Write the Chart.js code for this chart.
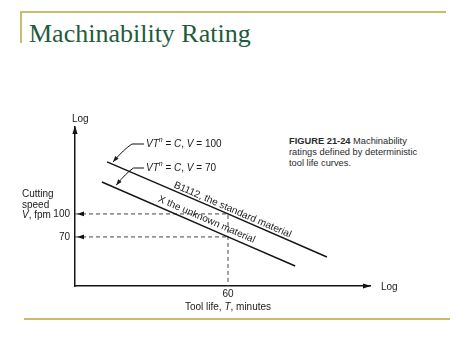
<!DOCTYPE html>
<html><head><meta charset="utf-8">
<script src="https://cdn.jsdelivr.net/npm/chart.js@4.4.1/dist/chart.umd.min.js"></script>
<style>
html,body{margin:0;padding:0;background:#fff;}
#wrap{position:relative;width:474px;height:355px;overflow:hidden;background:#fff;}
#c{position:absolute;left:0;top:0;}
.gold{position:absolute;background:#cdbb6c;}
#title{position:absolute;left:29px;top:21px;font-family:"Liberation Serif","DejaVu Serif",serif;font-size:26px;line-height:26px;color:#1f5b3c;white-space:nowrap;}
#caption{position:absolute;left:289px;top:136px;font-family:"Liberation Sans",Arial,sans-serif;font-size:9.3px;line-height:11px;color:#2a2a2a;white-space:nowrap;}
</style></head>
<body><div id="wrap">
<div class="gold" style="left:20px;top:11px;width:426px;height:2px"></div>
<div class="gold" style="left:20px;top:11px;width:1.5px;height:32px"></div>
<div class="gold" style="left:24px;top:318px;width:426px;height:2px"></div>
<div id="title">Machinability Rating</div>
<div id="caption"><b>FIGURE 21-24</b> Machinability<br>ratings defined by deterministic<br>tool life curves.</div>
<canvas id="c" width="474" height="355"></canvas>
</div>
<script>
// ---- data (log-log axes: tool life T in minutes, cutting speed V in fpm) ----
const xTicks = [60];
const yTicks = [70, 100];
const xRange = [5.6, 542];
const yRange = [32.7, 385];
const standardT = [9.2, 60, 278];
const standardV = [224, 100, 51.3];
const unknownT = [8.5, 60, 170];
const unknownV = [164, 70, 44.6];
const ref100T = [5.6, 60, 60];
const ref100V = [100, 100, 32.7];
const ref70T = [5.6, 60];
const ref70V = [70, 70];

const FONT = '"Liberation Sans", Arial, sans-serif';
const pts = (T, V) => T.map((t, i) => ({x: t, y: V[i]}));

function tri(ctx, tx, ty, dx, dy, len, half) {
  const bx = tx - dx * len, by = ty - dy * len;
  ctx.beginPath();
  ctx.moveTo(tx, ty);
  ctx.lineTo(bx - dy * half, by + dx * half);
  ctx.lineTo(bx + dy * half, by - dx * half);
  ctx.closePath();
  ctx.fill();
}
function richWidth(ctx, parts, size) {
  let w = 0;
  for (const p of parts) {
    const fs = p.sup ? size * 0.7 : size;
    ctx.font = (p.i ? 'italic ' : '') + fs + 'px ' + FONT;
    w += ctx.measureText(p.t).width;
  }
  return w;
}
function rich(ctx, x, y, parts, size, align) {
  let cx = x;
  if (align === 'center') cx = x - richWidth(ctx, parts, size) / 2;
  ctx.textAlign = 'left';
  ctx.textBaseline = 'middle';
  for (const p of parts) {
    const fs = p.sup ? size * 0.7 : size;
    ctx.font = (p.i ? 'italic ' : '') + fs + 'px ' + FONT;
    ctx.fillText(p.t, cx, p.sup ? y - size * 0.38 : y);
    cx += ctx.measureText(p.t).width;
  }
}

const annot = {
  id: 'annot',
  afterDatasetsDraw(chart) {
    const {ctx, chartArea: a} = chart;
    const xs = chart.scales.x, ys = chart.scales.y;
    const lineAt = (T, V, t) => {
      const n = T.length - 1;
      const k = (Math.log(V[n]) - Math.log(V[0])) / (Math.log(T[n]) - Math.log(T[0]));
      const v = Math.exp(Math.log(V[0]) + k * (Math.log(t) - Math.log(T[0])));
      return {x: xs.getPixelForValue(t), y: ys.getPixelForValue(v)};
    };
    ctx.save();
    ctx.fillStyle = '#111';
    ctx.strokeStyle = '#111';
    // axis arrowheads
    tri(ctx, a.left, a.top - 1, 0, -1, 8, 2.6);
    tri(ctx, a.right + 1, a.bottom, 1, 0, 8, 2.6);
    // dashed-line arrowheads at the speed axis
    yTicks.forEach(v => tri(ctx, a.left + 2, ys.getPixelForValue(v), -1, 0, 7, 2.4));

    // axis labels
    ctx.fillStyle = '#1a1a1a';
    ctx.font = '10px ' + FONT;
    ctx.textAlign = 'left'; ctx.textBaseline = 'middle';
    ctx.fillText('Log', a.left - 3, a.top - 8);
    ctx.fillText('Log', a.right + 11, a.bottom + 1);
    ctx.fillText('Cutting', 22, 194);
    ctx.fillText('speed', 22, 205);
    rich(ctx, 22, 215, [{t: 'V', i: true}, {t: ', fpm'}], 10);
    rich(ctx, xs.getPixelForValue(60), 307, [{t: 'Tool life, '}, {t: 'T', i: true}, {t: ', minutes'}], 10, 'center');

    // callout labels
    const eq = (v) => [{t: 'V', i: true}, {t: 'T', i: true}, {t: 'n', i: true, sup: true}, {t: ' = '}, {t: 'C', i: true}, {t: ', '}, {t: 'V', i: true}, {t: ' = ' + v}];
    rich(ctx, 146, 144, eq(100), 10);
    rich(ctx, 146, 168, eq(70), 10);

    // callout leaders
    ctx.lineWidth = 1;
    const leader = (sx, sy, ex, cx, cy, tip) => {
      ctx.beginPath();
      ctx.moveTo(ex, sy);
      ctx.lineTo(sx, sy);
      ctx.quadraticCurveTo(cx, cy, tip.x, tip.y);
      ctx.stroke();
      const dx = tip.x - cx, dy = tip.y - cy, L = Math.hypot(dx, dy);
      tri(ctx, tip.x, tip.y, dx / L, dy / L, 6, 2.2);
    };
    const t1 = lineAt(standardT, standardV, 10.1); t1.y -= 2.5;
    const t2 = lineAt(unknownT, unknownV, 10.6); t2.y -= 3;
    leader(132, 144, 144, 124, 149, t1);
    leader(133.5, 168, 144, 126, 173, t2);

    // labels along the lines
    const along = (text, T, V, t0, off) => {
      const p0 = lineAt(T, V, T[0]), p1 = lineAt(T, V, T[T.length - 1]);
      const ang = Math.atan2(p1.y - p0.y, p1.x - p0.x);
      const s = lineAt(T, V, t0);
      ctx.save();
      ctx.translate(s.x, s.y);
      ctx.rotate(ang);
      ctx.font = '10px ' + FONT;
      ctx.textAlign = 'left'; ctx.textBaseline = 'alphabetic';
      ctx.fillText(text, 0, -off);
      ctx.restore();
    };
    along('B1112, the standard material', standardT, standardV, 25.2, 3);
    along('X the unknown material', unknownT, unknownV, 19.6, 4.5);
    ctx.restore();
  }
};

Chart.defaults.font.family = FONT;
new Chart(document.getElementById('c'), {
  type: 'scatter',
  data: {
    datasets: [
      {label: 'B1112, the standard material', data: pts(standardT, standardV), showLine: true, borderColor: '#141414', borderWidth: 1.5, pointRadius: 0},
      {label: 'X the unknown material', data: pts(unknownT, unknownV), showLine: true, borderColor: '#141414', borderWidth: 1.5, pointRadius: 0},
      {label: 'V = 100', data: pts(ref100T, ref100V), showLine: true, borderColor: '#444', borderWidth: 1, borderDash: [4, 3], pointRadius: 0},
      {label: 'V = 70', data: pts(ref70T, ref70V), showLine: true, borderColor: '#444', borderWidth: 1, borderDash: [4, 3], pointRadius: 0}
    ]
  },
  options: {
    responsive: false,
    animation: false,
    devicePixelRatio: 1,
    layout: {padding: {left: 0, top: 127, right: 104, bottom: 0}},
    plugins: {legend: {display: false}, tooltip: {enabled: false}, title: {display: false}},
    scales: {
      x: {
        type: 'logarithmic', min: xRange[0], max: xRange[1],
        grid: {display: false, drawTicks: false},
        border: {display: true, color: '#141414', width: 1.5},
        ticks: {padding: 2, color: '#1a1a1a', font: {size: 10}, autoSkip: false, maxRotation: 0, callback: v => String(v)},
        afterBuildTicks: s => { s.ticks = xTicks.map(v => ({value: v})); },
        afterFit: s => { s.height = 69; }
      },
      y: {
        type: 'logarithmic', min: yRange[0], max: yRange[1],
        grid: {display: false, drawTicks: false},
        border: {display: true, color: '#141414', width: 1.5},
        ticks: {padding: 5, color: '#1a1a1a', font: {size: 10}, autoSkip: false, callback: v => String(v)},
        afterBuildTicks: s => { s.ticks = yTicks.map(v => ({value: v})); },
        afterFit: s => { s.width = 75; }
      }
    }
  },
  plugins: [annot]
});
</script>
</body></html>
